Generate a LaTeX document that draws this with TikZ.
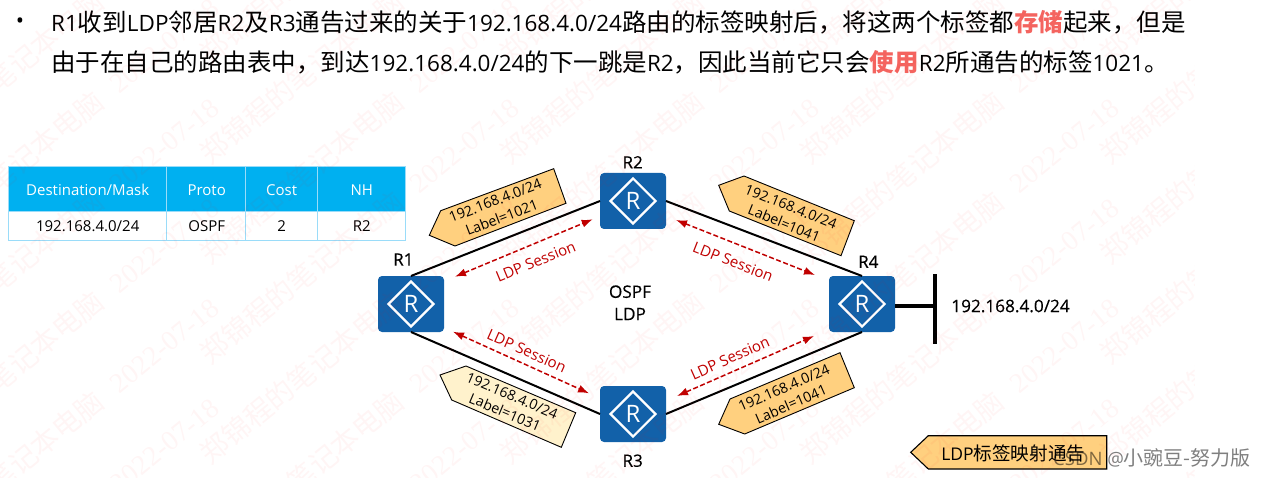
\documentclass[tikz,border=0pt]{standalone}
\usepackage{fontspec}
\setmainfont{Open Sans}
\newfontfamily\zhf{Noto Sans CJK SC}
\newfontfamily\med{Open Sans}[FakeBold=0.35]
\newfontfamily\wmd{Liberation Serif}
\usetikzlibrary{arrows.meta,shapes.geometric}
\definecolor{rblue}{HTML}{1261A9}
\definecolor{ldpred}{HTML}{C00000}
\definecolor{flagor}{HTML}{FFD07F}
\definecolor{flagpale}{HTML}{FFF2CC}
\definecolor{thead}{HTML}{00B0F0}
\definecolor{tline}{HTML}{9ADCF9}
\definecolor{hot}{HTML}{F4645F}
\newcommand{\fs}[2]{\fontsize{#1}{#2}\selectfont}
\newcommand{\zz}[1]{{\zhf\fs{24.5}{26}#1}}
\newcommand{\zb}[1]{{\zhf\bfseries\fs{24.5}{26}\color{hot}#1}}
\tikzset{
  x=1pt,y=-1pt,
  router/.style={draw=none,fill=rblue,rounded corners=4pt,minimum width=66pt,minimum height=56pt,inner sep=0,outer sep=0},
  rmark/.style={diamond,draw=white,line width=2.2pt,aspect=1,minimum width=46pt,minimum height=46pt,inner sep=0,text=white,font=\fs{24}{26}},
  rname/.style={font=\fs{17}{20}\med,inner sep=0},
  link/.style={black,line width=2pt},
  session/.style={ldpred,line width=1.5pt,dash pattern=on 5pt off 2.5pt,{Latex[length=11pt,width=8pt]}-{Latex[length=11pt,width=8pt]}},
  sesstext/.style={text=ldpred,font=\fs{15}{18},inner sep=0},
  flag/.style={draw=black,line width=.9pt,fill=flagor,line join=miter},
  flagtext/.style={align=center,font=\fs{14.2}{18},inner sep=0,text=black},
  cellhead/.style={text=white,font=\fs{15}{18},inner sep=0},
  cellbody/.style={text=black,font=\fs{15}{18},inner sep=0},
  body/.style={anchor=west,inner sep=0,font=\fs{22.5}{26},text=black},
}
\begin{document}
\begin{tikzpicture}
\useasboundingbox (0,0) rectangle (1265,478);
\fill[white] (0,0) rectangle (1265,478);

% heading
\node[inner sep=0,font=\fs{22}{26}] (bullet) at (20,23) {•};
\node[body] (line1) at (51,22) {R1\zz{收到}LDP\zz{邻居}R2\zz{及}R3\zz{通告过来的关于}192.168.4.0/24\zz{路由的标签映射后，将这两个标签都}\zb{存储}\zz{起来，但是}};
\node[body] (line2) at (51,62) {\zz{由于在自己的路由表中，到达}192.168.4.0/24\zz{的下一跳是}R2\zz{，因此当前它只会}\zb{使用}R2\zz{所通告的标签}1021\zz{。}};

% table
\fill[thead] (8.3,166.7) rectangle (405.7,211.7);
\draw[tline,line width=1pt] (8.3,166.7) rectangle (405.7,240.3);
\draw[tline,line width=1pt] (8.3,211.7) -- (405.7,211.7);
\draw[tline,line width=1pt] (166.7,166.7) -- (166.7,240.3);
\draw[tline,line width=1pt] (245.7,166.7) -- (245.7,240.3);
\draw[tline,line width=1pt] (317.7,166.7) -- (317.7,240.3);
\node[cellhead] (h1) at (87.7,190) {Destination/Mask};
\node[cellhead] (h2) at (206.7,190) {Proto};
\node[cellhead] (h3) at (281.7,190) {Cost};
\node[cellhead] (h4) at (361.7,190) {NH};
\node[cellbody] (c1) at (87.7,226.5) {192.168.4.0/24};
\node[cellbody] (c2) at (206.7,226.5) {OSPF};
\node[cellbody] (c3) at (281.7,226.5) {2};
\node[cellbody] (c4) at (361.7,226.5) {R2};

% routers
\node[router] (R1) at (411,304) {};
\node[router] (R2) at (633,201) {};
\node[router] (R3) at (633,414) {};
\node[router] (R4) at (862,304) {};
\foreach \r in {R1,R2,R3,R4} \node[rmark] (\r m) at (\r) {R};
\node[rname] (R1t) at (403.3,259.5) {R1};
\node[rname] (R2t) at (632.7,162.3) {R2};
\node[rname] (R3t) at (632.7,460.7) {R3};
\node[rname] (R4t) at (868.3,261.7) {R4};

% links
\draw[link] (R1.north) -- (R2.west);
\draw[link] (R2.east) -- (R4.north);
\draw[link] (R1.south) -- (R3.west);
\draw[link] (R3.east) -- (R4.south);
\coordinate (r4out) at (895,306);
\coordinate (barmid) at (935,306);
\coordinate (bartop) at (935,274);
\coordinate (barbot) at (935,343.5);
\draw[black,line width=4pt] (r4out) -- (barmid);
\draw[black,line width=4pt] (bartop) -- (barbot);
\node[font=\fs{17.2}{20}\med,inner sep=0] (net) at (1010.5,306) {192.168.4.0/24};
\node[font=\fs{17.2}{20}\med,inner sep=0] (ospf) at (630,291.7) {OSPF};
\node[font=\fs{17.2}{20}\med,inner sep=0] (ldp) at (630,314) {LDP};

% sessions
\coordinate (s1a) at (455,276.7); \coordinate (s1b) at (592.7,219.3);
\coordinate (s2a) at (676,220);   \coordinate (s2b) at (815,275);
\coordinate (s3a) at (453,331.7); \coordinate (s3b) at (589,393.3);
\coordinate (s4a) at (677,396);   \coordinate (s4b) at (814,336);
\draw[session] (s1a) -- (s1b);
\draw[session] (s2a) -- (s2b);
\draw[session] (s3a) -- (s3b);
\draw[session] (s4a) -- (s4b);
\node[sesstext,rotate=22.5] (t1) at (535.7,261.7) {LDP Session};
\node[sesstext,rotate=-21.5] (t2) at (733,261.7) {LDP Session};
\node[sesstext,rotate=-24] (t3) at (526.7,351) {LDP Session};
\node[sesstext,rotate=24] (t4) at (730,358) {LDP Session};

% flags
\draw[flag] (553.7,168.7) -- (566,203.3) -- (455,246) -- (429.3,235.3) -- (440.7,210.7) -- cycle;
\draw[flag] (744,176) -- (854.3,220.7) -- (841,255.7) -- (729.3,211) -- (718.7,185.3) -- cycle;
\draw[flag,fill=flagpale] (466,366) -- (575.7,412.7) -- (561.3,447.3) -- (451.7,400) -- (440,375) -- cycle;
\draw[flag] (840,352.7) -- (854.3,387.7) -- (744.7,434) -- (718.7,424.3) -- (730,399) -- cycle;
\node[flagtext,rotate=21] (f1) at (498.5,209) {192.168.4.0/24\\Label=1021};
\node[flagtext,rotate=-22] (f2) at (787.5,215) {192.168.4.0/24\\Label=1041};
\node[flagtext,rotate=-23] (f3) at (508.5,404) {192.168.4.0/24\\Label=1031};
\node[flagtext,rotate=23.5] (f4) at (787.5,396) {192.168.4.0/24\\Label=1041};

% legend
\draw[flag,line width=1.1pt] (910.7,452.3) -- (928.3,435.7) -- (1106.7,435.7) -- (1106.7,469) -- (928.3,469) -- cycle;
\node[inner sep=0,font=\fs{17.5}{20}] (legend) at (1013.3,453) {LDP{\zhf\fs{18.6}{20}标签映射通告}};

% watermark
\begin{scope}
\clip (0,0) rectangle (1194,478);
\foreach \m in {-1,0,1,2,3} \foreach \n in {-2,...,5}
  \node[rotate=39.3,anchor=west,inner sep=0,text=red,text opacity=.038,font=\fs{28}{30}]
    (wm\m\n) at ({204+300*\m},{257+100*\n}) {{\zhf 郑锦程的笔记本电脑}\hspace{18pt}{\wmd 2022-07-18}};
\end{scope}
\node[anchor=west,inner sep=0,text=black,text opacity=.5,font=\fs{18.5}{22}] (csdn) at (1053,458) {CSDN @{\zhf\fs{20}{22}小豌豆-努力版}};
\end{tikzpicture}
\end{document}
